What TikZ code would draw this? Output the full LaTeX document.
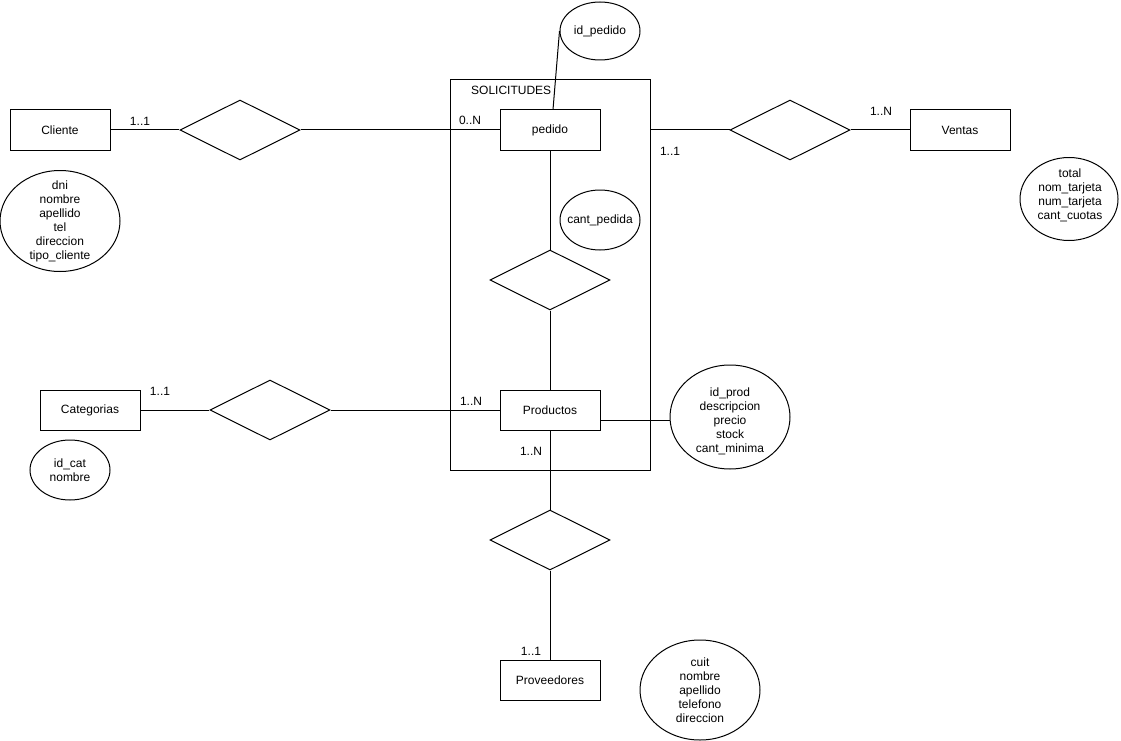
\documentclass[tikz,border=0pt]{standalone}
\usepackage{fontspec}
\setmainfont{Liberation Sans}
\usetikzlibrary{shapes.geometric}
\begin{document}
\begin{tikzpicture}[x=1pt,y=-1pt,
  every node/.style={font=\fontsize{12}{14}\selectfont},
  ent/.style={draw, line width=1pt, minimum width=100pt, minimum height=40pt, inner sep=0pt},
  rel/.style={draw, diamond, aspect=2, line width=1pt, minimum width=120pt, minimum height=60pt, inner sep=0pt},
  attr/.style={draw, ellipse, line width=1pt, inner sep=0pt},
  attrtxt/.style={inner sep=0pt, align=center},
  grp/.style={draw, line width=1pt, minimum width=200pt, minimum height=390pt, inner sep=0pt},
  card/.style={inner sep=0pt},
  conn/.style={line width=1pt}]
\useasboundingbox (0,0) rectangle (1121,741);

% group box
\node[grp] (sol) at (550,275) {};
\node[anchor=west, inner sep=0pt] (soltxt) at (471,90) {SOLICITUDES};

% entities
\node[ent] (cli) at (60,130) {Cliente};
\node[ent] (ped) at (550,130) {pedido};
\node[ent] (ven) at (960,130) {Ventas};
\node[ent] (prod) at (550,410) {Productos};
\node[ent] (cat) at (90,410) {Categorias};
\node[ent] (prov) at (550,680) {Proveedores};

% relations
\node[rel] (r1) at (240,130) {};
\node[rel] (r2) at (790,130) {};
\node[rel] (r3) at (550,280) {};
\node[rel] (r4) at (270,410) {};
\node[rel] (r5) at (550,540) {};

% attributes
\node[attr, minimum width=80pt, minimum height=58pt] (idp) at (600,31) {};
\node[attrtxt] (idpt) at (idp) {id\_pedido};
\node[attr, minimum width=98pt, minimum height=83pt] (venat) at (1069,199) {};
\node[attrtxt] (venatt) at (1070,195) {total\\nom\_tarjeta\\num\_tarjeta\\cant\_cuotas};
\node[attr, minimum width=120pt, minimum height=101pt] (cliat) at (60,221) {};
\node[attrtxt] (cliatt) at (cliat) {dni\\nombre\\apellido\\tel\\direccion\\tipo\_cliente};
\node[attr, minimum width=80pt, minimum height=60pt] (cp) at (600,220) {};
\node[attrtxt] (cpt) at (cp) {cant\_pedida};
\node[attr, minimum width=120pt, minimum height=104pt] (prodat) at (730,417) {};
\node[attrtxt] (prodatt) at (730,421) {id\_prod\\descripcion\\precio\\stock\\cant\_minima};
\node[attr, minimum width=80pt, minimum height=60pt] (catat) at (70,470) {};
\node[attrtxt] (catatt) at (catat) {id\_cat\\nombre};
\node[attr, minimum width=120pt, minimum height=100pt] (provat) at (700,690) {};
\node[attrtxt] (provatt) at (provat) {cuit\\nombre\\apellido\\telefono\\direccion};

% connectors
\draw[conn] (cli) -- (r1);
\draw[conn] (r1) -- (ped);
\draw[conn] ([xshift=3pt]ped.north) -- (idp.west);
\draw[conn] (sol.east |- r2) -- (r2);
\draw[conn] (r2) -- (ven);
\draw[conn] (ped) -- (r3);
\draw[conn] (r3) -- (prod);
\draw[conn] ([yshift=-10pt]prod.east) -- ([yshift=-10pt]prod.east -| prodat.west);
\draw[conn] (cat) -- (r4);
\draw[conn] (r4) -- (prod);
\draw[conn] (prod) -- (r5);
\draw[conn] (r5) -- (prov);

% cardinalities
\node[card] (c1) at (140,121) {1..1};
\node[card] (c2) at (470,120) {0..N};
\node[card] (c3) at (670,151) {1..1};
\node[card] (c4) at (881,111) {1..N};
\node[card] (c5) at (160,391) {1..1};
\node[card] (c6) at (471,401) {1..N};
\node[card] (c7) at (531,451) {1..N};
\node[card] (c8) at (531,651) {1..1};
\end{tikzpicture}
\end{document}
